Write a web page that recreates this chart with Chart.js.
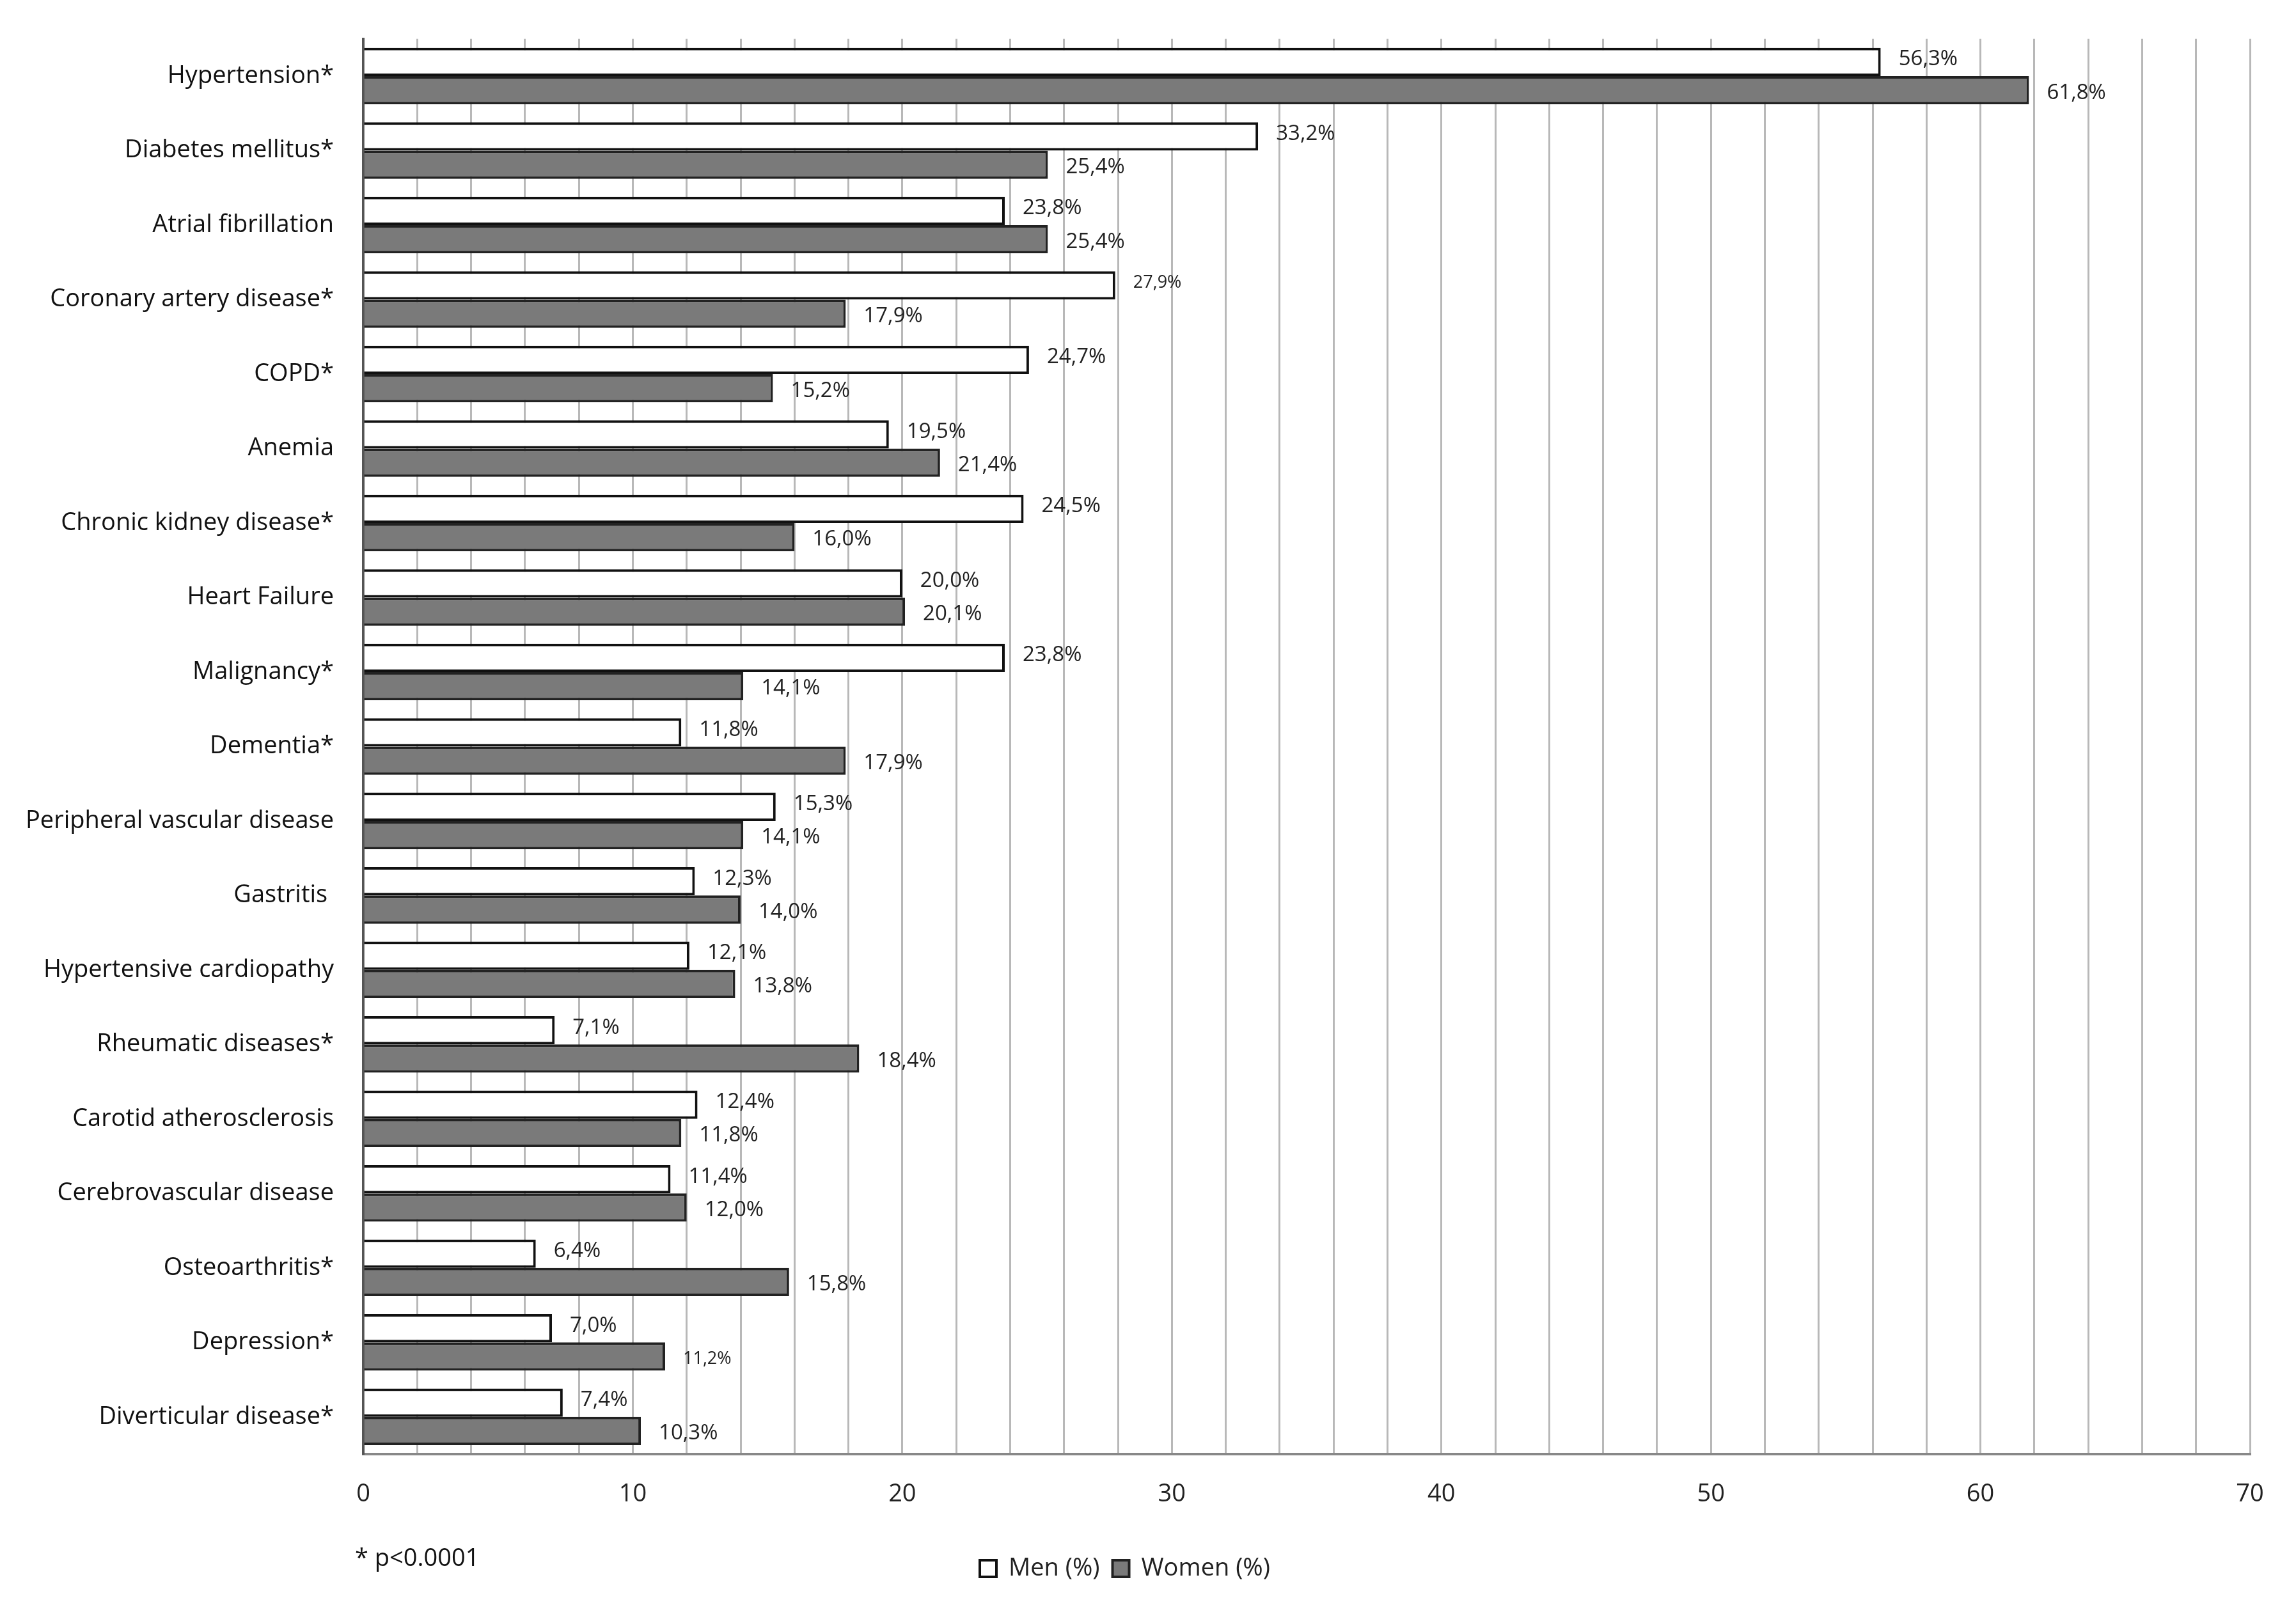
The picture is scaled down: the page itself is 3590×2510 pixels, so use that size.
<!DOCTYPE html>
<html>
<head>
<meta charset="utf-8">
<script src="https://cdn.jsdelivr.net/npm/chart.js@4"></script>
<style>
  html, body { margin: 0; padding: 0; background: #fff; }
  #wrap { width: 3590px; height: 2510px; }
</style>
</head>
<body>
<div id="wrap"><canvas id="chart"></canvas></div>
<script>
const categories = [
  'Hypertension*', 'Diabetes mellitus*', 'Atrial fibrillation', 'Coronary artery disease*',
  'COPD*', 'Anemia', 'Chronic kidney disease*', 'Heart Failure', 'Malignancy*', 'Dementia*',
  'Peripheral vascular disease', 'Gastritis ', 'Hypertensive cardiopathy', 'Rheumatic diseases*',
  'Carotid atherosclerosis', 'Cerebrovascular disease', 'Osteoarthritis*', 'Depression*',
  'Diverticular disease*'
];
const men = [56.3, 33.2, 23.8, 27.9, 24.7, 19.5, 24.5, 20.0, 23.8, 11.8, 15.3, 12.3, 12.1, 7.1, 12.4, 11.4, 6.4, 7.0, 7.4];
const women = [61.8, 25.4, 25.4, 17.9, 15.2, 21.4, 16.0, 20.1, 14.1, 17.9, 14.1, 14.0, 13.8, 18.4, 11.8, 12.0, 15.8, 11.2, 10.3];
const xTicks = [0, 10, 20, 30, 40, 50, 60, 70];

const FONT = "'Open Sans', 'DejaVu Sans', sans-serif";

// value labels at bar ends, comma decimals
const valueLabels = {
  id: 'valueLabels',
  afterDatasetsDraw(chart) {
    const ctx = chart.ctx;
    ctx.save();
    ctx.fillStyle = '#222';
    ctx.textBaseline = 'middle';
    ctx.textAlign = 'left';
    chart.data.datasets.forEach((ds, di) => {
      chart.getDatasetMeta(di).data.forEach((bar, i) => {
        const small = (di === 0 && i === 3) || (di === 1 && i === 17);
        ctx.font = (small ? 27 : 33) + 'px ' + FONT;
        const txt = ds.data[i].toFixed(1).replace('.', ',') + '%';
        ctx.fillText(txt, bar.x + 28, bar.y + (di === 0 ? -4 : 4));
      });
    });
    ctx.restore();
  }
};

const footnote = {
  id: 'footnote',
  afterDraw(chart) {
    const ctx = chart.ctx;
    ctx.save();
    ctx.font = '38px ' + FONT;
    ctx.fillStyle = '#111';
    ctx.textBaseline = 'middle';
    ctx.fillText('* p<0.0001', 555, 2438);
    ctx.restore();
  }
};

new Chart(document.getElementById('chart'), {
  type: 'bar',
  data: {
    labels: categories,
    datasets: [
      { label: 'Men (%)', data: men, backgroundColor: '#ffffff', borderColor: '#111', borderWidth: 4 },
      { label: 'Women (%)', data: women, backgroundColor: '#7a7a7a', borderColor: '#222', borderWidth: 4 }
    ]
  },
  options: {
    indexAxis: 'y',
    responsive: true,
    maintainAspectRatio: false,
    animation: false,
    datasets: { bar: { categoryPercentage: 0.76, barPercentage: 1.0 } },
    layout: { padding: { top: 50, right: 72, left: 0, bottom: 28 } },
    scales: {
      x: {
        min: 0, max: 70,
        ticks: {
          stepSize: 2,
          autoSkip: false,
          maxRotation: 0,
          padding: 40,
          color: '#222',
          font: { size: 38, family: FONT },
          callback: v => xTicks.includes(v) ? v : ''
        },
        grid: { color: '#b8b8b8', lineWidth: 3, drawTicks: false },
        border: { color: '#888', width: 4 },
        afterFit: s => { s.height = 140; }
      },
      y: {
        ticks: { color: '#111', padding: 38, font: { size: 38, family: FONT }, autoSkip: false },
        grid: { display: false },
        border: { color: '#555', width: 4 },
        afterFit: s => { s.width = 568; }
      }
    },
    plugins: {
      legend: {
        position: 'bottom',
        labels: {
          color: '#222',
          font: { size: 38, family: FONT },
          boxWidth: 26, boxHeight: 26,
          padding: 20
        }
      },
      tooltip: { enabled: false }
    }
  },
  plugins: [valueLabels, footnote]
});
</script>
</body>
</html>
